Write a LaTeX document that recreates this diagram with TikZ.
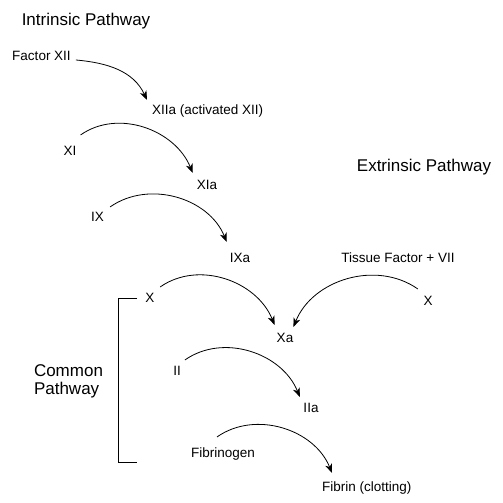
\documentclass[tikz,border=0pt]{standalone}
\usepackage{fontspec}
\setmainfont{Liberation Sans}
\usetikzlibrary{arrows.meta}

\tikzset{
  factor/.style={inner sep=0pt, text height=9.7pt, text depth=0pt, font=\fontsize{13.5}{16}\selectfont},
  heading/.style={inner sep=0pt, align=left, font=\fontsize{17}{18}\selectfont},
  cascade/.style={-{Stealth[length=9pt,width=7pt,inset=2.5pt]}, line width=0.8pt},
}

\begin{document}
\begin{tikzpicture}[x=1pt, y=1pt]
  \useasboundingbox (0,0) rectangle (503,503);

  % pathway titles
  \node[heading, text height=12.2pt, text depth=0pt] (intr) at (86,484) {Intrinsic Pathway};
  \node[heading, text height=12.2pt, text depth=0pt] (extr) at (424,338) {Extrinsic Pathway};
  \node[heading] (common) at (68.5,121.3) {Common\\Pathway};

  % factors
  \node[factor] (fxii) at (41.5,447) {Factor XII};
  \node[factor, anchor=west] (xiia) at (152,393) {XIIa (activated XII)};
  \node[factor] (xi) at (70,352) {XI};
  \node[factor] (xia) at (207,318) {XIa};
  \node[factor] (ix) at (97.5,286) {IX};
  \node[factor] (ixa) at (240,245) {IXa};
  \node[factor] (tf) at (398,245) {Tissue Factor + VII};
  \node[factor] (xl) at (150,205) {X};
  \node[factor] (xr) at (428,202) {X};
  \node[factor] (xa) at (285,165) {Xa};
  \node[factor] (ii) at (177,132) {II};
  \node[factor] (iia) at (311,95) {IIa};
  \node[factor] (fbg) at (223,50) {Fibrinogen};
  \node[factor, anchor=west] (fbn) at (322,16) {Fibrin (clotting)};

  % bracket of the common pathway
  \coordinate (brtop) at (137,205);
  \coordinate (brbot) at (137,41);
  \draw[line width=0.8pt] (brtop) -- ++(-19,0) |- (brbot);

  % activation steps
  \draw[cascade] ([shift={(5,-4)}]fxii.east) to[out=-5, in=115] ([shift={(-5,5)}]xiia.north west);
  \draw[cascade] ([shift={(4,11)}]xi.north east) to[out=35, in=112] ([shift={(-4,7)}]xia.north west);
  \draw[cascade] ([shift={(6,5)}]ix.north east) to[out=35, in=112] ([shift={(-3,11)}]ixa.north west);
  \draw[cascade] ([shift={(5.5,6)}]xl.north east) to[out=35, in=112] ([shift={(-2,8)}]xa.north west);
  \draw[cascade] ([shift={(-5.5,7)}]xr.north west) to[out=145, in=68] ([shift={(0,6)}]xa.north east);
  \draw[cascade] ([shift={(4,6)}]ii.north east) to[out=35, in=112] ([shift={(-3.5,6)}]iia.north west);
  \draw[cascade] ([shift={(-6,11)}]fbg.north) to[out=35, in=112] ([shift={(10,9)}]fbn.north west);
\end{tikzpicture}
\end{document}
